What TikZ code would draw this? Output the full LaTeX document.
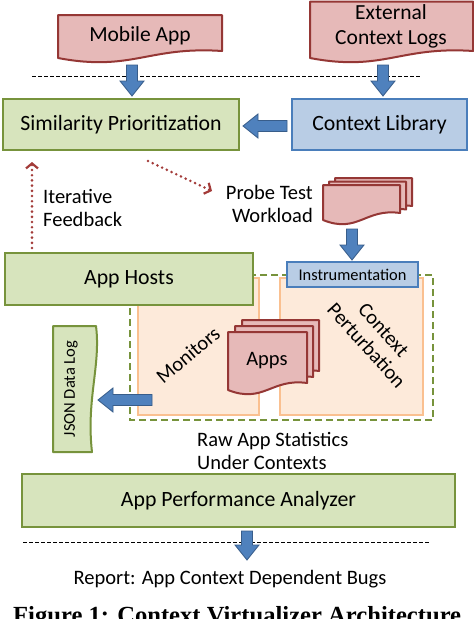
\documentclass[tikz,border=0pt]{standalone}
\usepackage{fontspec}
\setmainfont{Carlito}
\newfontfamily\capfont{Liberation Serif}
\usetikzlibrary{arrows.meta}
\definecolor{pinkfill}{HTML}{E6B9B8}
\definecolor{redline}{HTML}{953735}
\definecolor{greenfill}{HTML}{D7E4BD}
\definecolor{greenline}{HTML}{77933C}
\definecolor{bluefill}{HTML}{B9CDE5}
\definecolor{blueline}{HTML}{4A7EBB}
\definecolor{orangefill}{HTML}{FDEADA}
\definecolor{orangeline}{HTML}{FAC090}
\definecolor{arrowfill}{HTML}{4F81BD}
\definecolor{arrowline}{HTML}{385D8A}
\definecolor{dotred}{HTML}{A33B39}
\tikzset{
  greenbox/.style={draw=greenline, fill=greenfill, line width=2.2pt, inner sep=0pt,
    font=\fontsize{21.8}{26}\selectfont},
  bluebox/.style={draw=blueline, fill=bluefill, line width=2.2pt, inner sep=0pt,
    font=\fontsize{21.8}{26}\selectfont},
  orangebox/.style={draw=orangeline, fill=orangefill, line width=1.6pt, inner sep=0pt},
  docfill/.style={draw=redline, fill=pinkfill, line width=2pt, line join=round},
  jsonfill/.style={draw=greenline, fill=greenfill, line width=2pt, line join=round},
  lbl/.style={inner sep=0pt, font=\fontsize{20.5}{23}\selectfont},
  doctext/.style={inner sep=0pt, font=\fontsize{21.5}{25}\selectfont},
  barrowstyle/.style={fill=arrowfill, draw=arrowline, line width=0.8pt, line join=miter},
  blackdash/.style={draw=black, line width=1pt, dash pattern=on 4pt off 2pt},
  containerdash/.style={draw=greenline, line width=2.5pt, dash pattern=on 7pt off 4pt},
  dotarrow/.style={draw=dotred, line width=2.9pt, dash pattern=on 0pt off 5.2pt, line cap=round,
    -{Straight Barb[length=5pt,width=12pt,line width=2.2pt]}}
}
% x, y of tail centre, angle, length
\newcommand{\blockarrow}[4]{%
  \begin{scope}[shift={(#1,#2)}, rotate=#3]
    \filldraw[barrowstyle] (0,-5.5) -- ({#4-15},-5.5) -- ({#4-15},-12) -- (#4,0)
      -- ({#4-15},12) -- ({#4-15},5.5) -- (0,5.5) -- cycle;
  \end{scope}}
% style, x1, y1, x2, yb (left bottom)
\newcommand{\docshape}[5]{%
  \filldraw[#1] (#2,#3) -- (#4,#3) -- (#4,{#5-7})
    .. controls ({#4-0.45*(#4-#2)},{#5-12}) and ({#2+0.45*(#4-#2)},{#5+14}) .. (#2,#5) -- cycle;}
\begin{document}
\begin{tikzpicture}[x=1pt, y=-1pt]
\useasboundingbox (0,0) rectangle (474,619);
\clip (0,0) rectangle (474,619);
\fill[white] (0,0) rectangle (474,619);

% top documents
\docshape{docfill}{58}{15}{222}{58}
\node[doctext] (mob) at (140,36) {Mobile App};
\docshape{docfill}{310}{1.5}{473}{58}
\node[doctext, align=center] (ext) at (391,26) {External\\Context Logs};

% dashed separator
\draw[blackdash] (32,76) -- (420,76);
\blockarrow{132}{65}{-90}{31}
\blockarrow{383}{65}{-90}{31}

% main boxes
\node[greenbox, minimum width=236pt, minimum height=51pt] (sim) at (121,124.5) {Similarity Prioritization};
\node[bluebox, minimum width=175pt, minimum height=51pt] (lib) at (379.5,124.5) {Context Library};
\blockarrow{287}{126}{180}{44}

% iterative feedback
\node[lbl, align=left, anchor=west] (fb) at (43,208) {Iterative\\Feedback};
\draw[dotarrow] (32,248) -- (32,162);
\coordinate (probein) at (212,191);
\draw[dotarrow] (148,161) -- (probein);

% probe test workload
\node[lbl, align=right, anchor=east] (probe) at (313,204) {Probe Test\\Workload};
\docshape{docfill}{335}{178}{412}{213}
\docshape{docfill}{329}{181.5}{406}{216.5}
\docshape{docfill}{323}{185}{400}{220}
\blockarrow{352}{229}{-90}{31}

% container
\draw[containerdash] (130,275) rectangle (433,420);
\node[orangebox, minimum width=121pt, minimum height=137pt] (mon) at (198.5,346.5) {};
\node[orangebox, minimum width=143pt, minimum height=137pt] (cp) at (351.5,346.5) {};
\node[lbl, rotate=40] (montext) at (188,355) {Monitors};
\node[lbl, rotate=-48, align=center] (cptext) at (375,338) {Context\\Perturbation};

\node[greenbox, minimum width=248pt, minimum height=52pt] (hosts) at (129,279) {App Hosts};
\node[bluebox, minimum width=131pt, minimum height=25pt, font=\fontsize{16.4}{20}\selectfont] (instr) at (352.5,274.5) {Instrumentation};

% apps stack
\docshape{docfill}{242}{320}{319}{378}
\docshape{docfill}{235}{326}{313}{384}
\docshape{docfill}{228}{332}{307}{390}
\node[lbl] (apps) at (267,361) {Apps};

% json data log
\filldraw[jsonfill] (53,326) -- (96,326) .. controls (101,365) and (86,400) .. (92,452) -- (53,452) -- cycle;
\node[inner sep=0pt, rotate=90, font=\fontsize{16.5}{20}\selectfont] (json) at (71,389) {JSON Data Log};
\blockarrow{152}{400}{180}{54}

% raw stats
\node[lbl, align=left, anchor=west] (raw) at (197,451) {Raw App Statistics\\Under Contexts};

% analyzer
\node[greenbox, minimum width=433pt, minimum height=53pt] (apa) at (238.5,500.5) {App Performance Analyzer};
\draw[blackdash] (23,542) -- (430,542);
\blockarrow{247}{531}{-90}{29}
\node[lbl] (report) at (230,579) {Report: App Context Dependent Bugs};

% caption (cut off by the picture's lower edge)
\node[anchor=base west, inner sep=0pt, font=\capfont\bfseries\fontsize{24.6}{28}\selectfont] (cap) at (13,623) {Figure 1: Context Virtualizer Architecture};
\end{tikzpicture}
\end{document}
